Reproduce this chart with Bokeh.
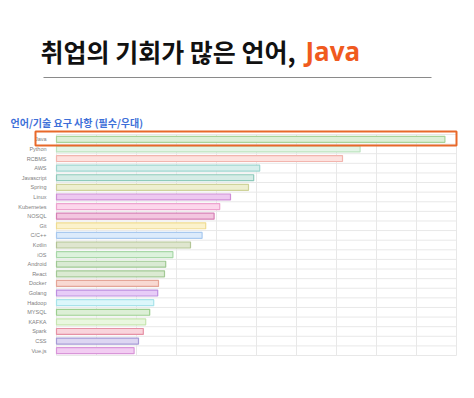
from bokeh.plotting import figure
from bokeh.models import Range1d, FixedTicker, BoxAnnotation, Label, ColumnDataSource, LinearAxis
from bokeh.embed import file_html
from bokeh.resources import INLINE

# ---- data ----
skills = ["Java", "Python", "RCBMS", "AWS", "Javascript", "Spring", "Linux", "Kubernetes",
          "NOSQL", "Git", "C/C++", "Kotlin", "iOS", "Android", "React", "Docker", "Golang",
          "Hadoop", "MYSQL", "KAFKA", "Spark", "CSS", "Vue.js"]
values = [97.1, 75.9, 71.5, 50.8, 49.3, 48.0, 43.5, 40.8, 39.4, 37.3, 36.4, 33.5, 29.1,
          27.3, 27.0, 25.5, 25.3, 24.3, 23.3, 22.3, 21.7, 20.5, 19.4]
fill_colors = ["#ddf0d8", "#e4f5e6", "#fde2df", "#d7efec", "#d5ece6", "#eeefd0", "#edc8f0",
               "#fcd7ec", "#f3c6e0", "#fbf2cc", "#dcebfb", "#dfe6cf", "#dcf2dc", "#d9ead3",
               "#dbead2", "#f8d9d2", "#e7ccf7", "#dcf7fa", "#dcefd6", "#e9f7df", "#f9d4dc",
               "#ddd6f2", "#f2cdf2"]
line_colors = ["#a8d49a", "#bde3c0", "#f2b5ae", "#9fd6cf", "#8fcabb", "#cfd39a", "#cf8fd6",
               "#eda3cf", "#d680b5", "#efdc92", "#a8c9ef", "#b3c596", "#a8d8a8", "#9fc993",
               "#a3c995", "#e4a597", "#bd8fe0", "#a8e3ea", "#9ccf90", "#c6e5b0", "#e691a5",
               "#a79bd6", "#d996d9"]
title_main = "취업의 기회가 많은 언어,"
title_accent = "Java"
subtitle = "언어/기술 요구 사항 (필수/우대)"
x_max = 100
grid_step = 10

n = len(skills)
idx = list(range(n))
src = ColumnDataSource(dict(y=idx, v=values, fc=fill_colors, lc=line_colors, name=skills))

W, H = 458, 382

# helpers: canvas pixel -> data coords (bar area spans x 56..456, y 134..355)
def dx(px):
    return (px - 56) / 4.0

def dy(py):
    return (py - 134) / (221.0 / n) - 0.5

p = figure(width=W, height=H, output_backend="svg", toolbar_location=None,
           x_range=Range1d(dx(0), dx(W)), y_range=Range1d(dy(H), dy(0)),
           x_axis_location=None, y_axis_location=None,
           min_border_left=0, min_border_right=0, min_border_top=0, min_border_bottom=0)
p.outline_line_color = None
p.background_fill_color = "white"
p.xgrid.visible = False
p.ygrid.visible = False

# grid lines of the bar area
vx = list(range(0, x_max + 1, grid_step))
p.segment(x0=vx, x1=vx, y0=[-0.5] * len(vx), y1=[n - 0.5] * len(vx),
          line_color="#e8e8e8", line_width=1)
hy = [i - 0.5 for i in range(n + 1)]
p.segment(x0=[0] * len(hy), x1=[x_max] * len(hy), y0=hy, y1=hy,
          line_color="#e8e8e8", line_width=1)

p.hbar(y="y", left=0, right="v", height=0.62, fill_color="fc", line_color="lc",
       line_width=1.2, source=src)

ax = LinearAxis(fixed_location=0, ticker=FixedTicker(ticks=idx),
                major_label_overrides={i: s for i, s in enumerate(skills)})
ax.axis_line_color = None
ax.major_tick_line_color = None
ax.minor_tick_line_color = None
ax.major_label_text_font_size = "5.5px"
ax.major_label_text_color = "#808080"
ax.major_label_text_font = "Liberation Sans"
ax.major_label_standoff = 4
p.add_layout(ax, "left")

p.add_layout(Label(x=dx(40), y=dy(50), text=title_main, text_font="Noto Sans CJK KR",
                   text_font_style="bold", text_font_size="25px", text_color="#111111",
                   text_baseline="middle", text_align="left"))
p.add_layout(Label(x=dx(305), y=dy(50), text=title_accent, text_font="Noto Sans",
                   text_font_style="bold", text_font_size="26px", text_color="#f05a1e",
                   text_baseline="middle", text_align="left"))
p.add_layout(BoxAnnotation(left=dx(43), right=dx(431), top=dy(76.5), bottom=dy(77.5),
                           fill_color="#8a8a8a", fill_alpha=1, line_color=None))
p.add_layout(Label(x=dx(10), y=dy(122), text=subtitle, text_font="Noto Sans CJK KR",
                   text_font_style="bold", text_font_size="10px", text_color="#3d6fd8",
                   text_baseline="middle", text_align="left"))
p.add_layout(BoxAnnotation(left=dx(35), right=dx(456), top=dy(131), bottom=dy(145),
                           fill_alpha=0, line_color="#e8692a", line_alpha=1, line_width=2))

open("out.html", "w").write(file_html(p, INLINE))
